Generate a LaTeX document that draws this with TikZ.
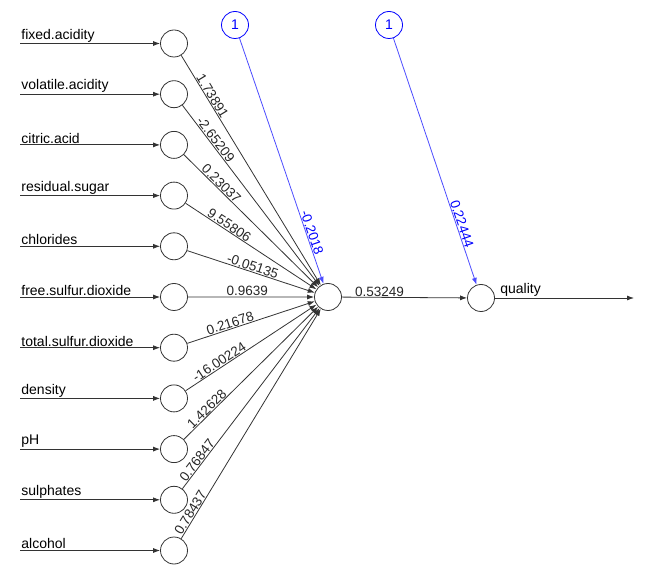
\documentclass[tikz,border=0pt]{standalone}
\usepackage{fontspec}
\setmainfont{Liberation Sans}
\usetikzlibrary{arrows.meta}
\begin{document}
\begin{tikzpicture}[x=1pt,y=-1pt,line width=0.8pt,
  neur/.style={circle,draw=black!80,minimum size=27pt,inner sep=0pt},
  bias/.style={circle,draw=blue,minimum size=27pt,inner sep=0pt,text=blue,font=\fontsize{14}{16}\selectfont},
  w/.style={draw=black!80,-{Latex[length=7pt,width=5pt]}},
  bw/.style={draw=blue!70,-{Latex[length=7pt,width=5pt]}},
  wl/.style={sloped,above,inner sep=0.5pt,font=\fontsize{13.5}{15}\selectfont,text=black!85},
  bl/.style={sloped,above,inner sep=0.5pt,font=\fontsize{13.5}{15}\selectfont,text=blue},
  lab/.style={anchor=south west,inner sep=1pt,font=\fontsize{14}{16}\selectfont}]
\useasboundingbox (0,0) rectangle (651,569);
\node[neur] (h) at (328,297) {};
\node[neur] (o) at (481,298) {};
\node[bias] (b1) at (235,25) {1};
\node[bias] (b2) at (389,25) {1};
\foreach \i/\name/\wt/\p in {
  1/fixed.acidity/1.73891/0.19,
  2/volatile.acidity/-2.65209/0.21,
  3/citric.acid/0.23037/0.25,
  4/residual.sugar/9.55806/0.31,
  5/chlorides/-0.05135/0.5,
  6/free.sulfur.dioxide/0.9639/0.47,
  7/total.sulfur.dioxide/0.21678/0.35,
  8/density/-16.00224/0.28,
  9/pH/1.42628/0.2,
  10/sulphates/0.76847/0.14,
  11/alcohol/0.78437/0.1}{
  \pgfmathsetmacro\yy{43.5+50.7*(\i-1)}
  \node[neur] (i\i) at (174,\yy) {};
  \coordinate (s\i) at (20,\yy);
  \draw[w] (s\i) -- (i\i) node[lab,pos=0] {\name};
  \draw[w] (i\i) -- (h) node[wl,pos=\p] {\wt};
}
\draw[bw] (b1) -- (h) node[bl,pos=0.8] {-0.2018};
\draw[bw] (b2) -- (o) node[bl,pos=0.76] {0.22444};
\draw[w] (h) -- (o) node[wl,pos=0.3] {0.53249};
\coordinate (e) at (634,298);
\draw[w] (o) -- (e) node[lab,pos=0,xshift=4pt] {quality};
\end{tikzpicture}
\end{document}
